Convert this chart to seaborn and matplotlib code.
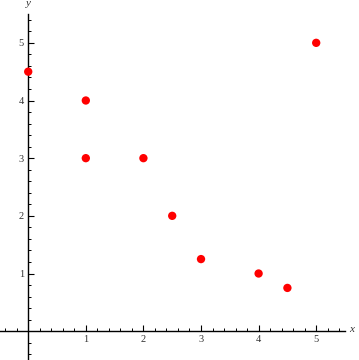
import matplotlib
matplotlib.use("Agg")
import matplotlib.pyplot as plt
import seaborn as sns
import pandas as pd
from matplotlib.ticker import MultipleLocator

x_vals = [0, 1, 1, 2, 2.5, 3, 4, 4.5, 5]
y_vals = [4.5, 4, 3, 3, 2, 1.25, 1, 0.75, 5]
x_ticks = [1, 2, 3, 4, 5]
y_ticks = [1, 2, 3, 4, 5]

sns.set_style("white")
plt.rcParams['font.family'] = ['Liberation Serif', 'DejaVu Serif']

df = pd.DataFrame({"x": x_vals, "y": y_vals})

fig = plt.figure(figsize=(3.59, 3.60), dpi=100)
ax = fig.add_axes([0.0, 0.0, 345 / 359, (360 - 14) / 360])
sns.scatterplot(data=df, x="x", y="y", ax=ax, color="#ff0000", s=36,
                edgecolor="none", linewidth=0, zorder=5, clip_on=False)

ax.set_xlim(-0.49, 5.5)
ax.set_ylim(-0.5, 5.5)
for s in ["top", "right"]:
    ax.spines[s].set_visible(False)
ax.spines["left"].set_position(("data", 0))
ax.spines["bottom"].set_position(("data", 0))
for s in ["left", "bottom"]:
    ax.spines[s].set_linewidth(1.0)
    ax.spines[s].set_color("black")

ax.xaxis.set_major_locator(plt.FixedLocator(x_ticks))
ax.yaxis.set_major_locator(plt.FixedLocator(y_ticks))
ax.xaxis.set_minor_locator(MultipleLocator(0.2))
ax.yaxis.set_minor_locator(MultipleLocator(0.2))
ax.set_xticklabels([str(t) for t in x_ticks])
ax.set_yticklabels([str(t) for t in y_ticks])
ax.tick_params(which="major", direction="in", length=4.0, width=0.8, color="black",
               labelsize=7.5, labelcolor="#333333", pad=3)
ax.tick_params(which="minor", direction="in", length=2.4, width=0.7, color="black")
ax.tick_params(axis="x", which="both", bottom=True, top=False)
ax.tick_params(axis="y", which="both", left=True, right=False)

ax.set_xlabel("")
ax.set_ylabel("")
fig.text(352 / 359, 1 - 330 / 360, "x", style="italic", fontsize=8,
         ha="center", va="center", color="#333333")
fig.text(28 / 359, 1 - 4 / 360, "y", style="italic", fontsize=8,
         ha="center", va="center", color="#333333")
ax.set_facecolor("white")
fig.patch.set_facecolor("white")
fig.savefig("out.png", dpi=100)
